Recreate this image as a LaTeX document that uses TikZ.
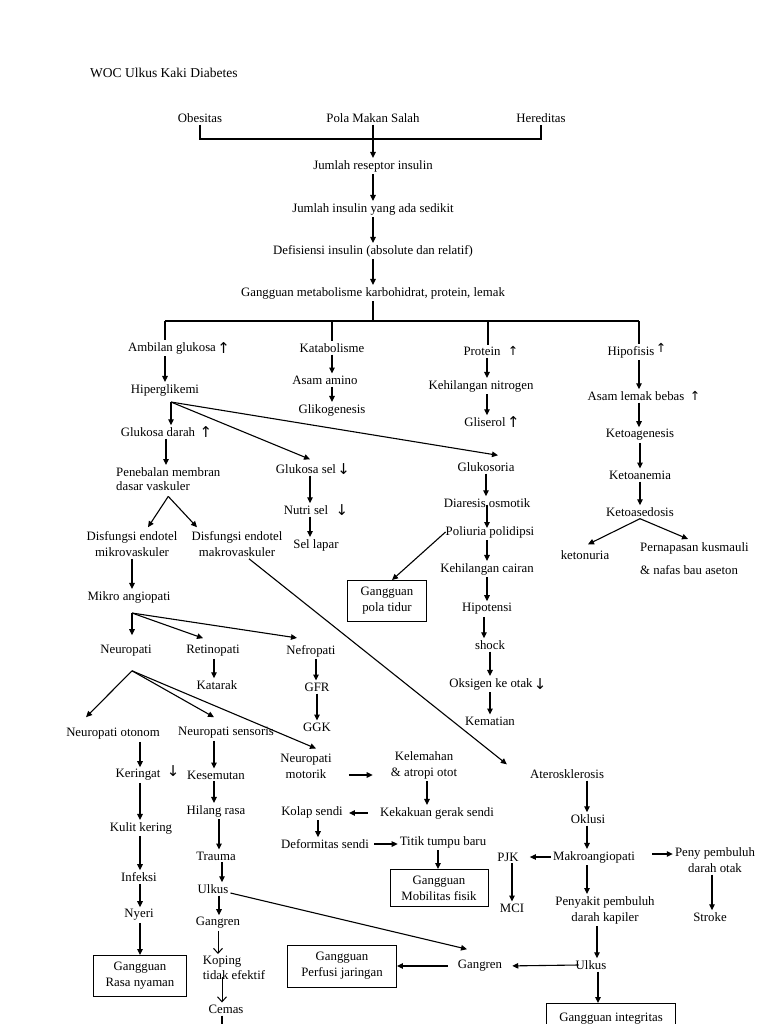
\documentclass[tikz,border=0pt]{standalone}
\usepackage{fontspec}
\setmainfont{Liberation Serif}
\newfontfamily\arrfont{DejaVu Sans}
\usetikzlibrary{arrows.meta}
\newcommand\upa{{\arrfont ↑}}
\newcommand\dna{{\arrfont ↓}}
\newcommand\dn[3][0pt]{\draw[arr] ([xshift=#1]#2.south) -- ([xshift=#1]#2.south |- #3.north);}
\begin{document}
\begin{tikzpicture}[x=1pt,y=-1pt,
 t/.style={font=\fontsize{12.8}{16}\selectfont, inner sep=2pt, align=center},
 bx/.style={t, draw, line width=0.9pt, inner sep=0pt},
 arr/.style={line width=1.1pt, -{Triangle[length=6pt,width=5.5pt]}},
 oarr/.style={line width=1pt, -{Straight Barb[length=5pt,width=9pt]}},
 ln/.style={line width=1.1pt},
 bus/.style={line width=1.7pt},
 g/.style={font=\fontsize{15}{15}\selectfont, inner sep=0pt, anchor=west},
 gs/.style={g, font=\fontsize{12.5}{12.5}\selectfont}]
\useasboundingbox[fill=white] (0,0) rectangle (768,1024);

\node[t, font=\fontsize{13.5}{16}\selectfont, anchor=west] (title) at (88,73) {WOC Ulkus Kaki Diabetes};

\node[t] (obes) at (200,118) {Obesitas};
\node[t] (pola) at (373,118) {Pola Makan Salah};
\node[t] (here) at (541,118) {Hereditas};
\node[t] (jrec) at (373,166) {Jumlah reseptor insulin};
\node[t] (jins) at (373,209) {Jumlah insulin yang ada sedikit};
\node[t] (defi) at (373,251) {Defisiensi insulin (absolute dan relatif)};
\node[t] (gmet) at (373,293) {Gangguan metabolisme karbohidrat, protein, lemak};

\coordinate (b1) at (200,139);
\draw[bus] (obes.south) -- (obes.south |- b1) -- (here.south |- b1) -- (here.south);
\draw[arr, line width=1.5pt] (pola) -- (jrec);
\draw[arr] (jrec) -- (jins);
\draw[arr] (jins) -- (defi);
\draw[arr] (defi) -- (gmet);

\coordinate (hb) at (373,321);
\coordinate (c1) at (165,321);
\coordinate (c2) at (332,321);
\coordinate (c3) at (488,321);
\coordinate (c4) at (639,321);
\draw[bus] (gmet.south) -- (hb);
\draw[bus] (c1) -- (c4);

\node[t] (amb) at (172,348) {Ambilan glukosa};
\node[g] (amb-u) at ([xshift=-1pt]amb.east) {\upa};
\node[t] (kat) at (332,348) {Katabolisme};
\node[t] (prot) at (482,351) {Protein};
\node[gs] (prot-u) at ([xshift=5pt]prot.east) {\upa};
\node[t] (hipo) at (631,352) {Hipofisis};
\node[gs] (hipo-u) at ([xshift=-1pt,yshift=4pt]hipo.east) {\upa};
\draw[bus] (c1) -- (c1 |- amb.north);
\draw[bus] (c2) -- (c2 |- kat.north);
\draw[bus] (c3) -- (c3 |- prot.north);
\draw[bus] (c4) -- (c4 |- hipo.north);

\node[t] (hip) at (165,390) {Hiperglikemi};
\draw[arr] (hip.north |- amb.south) -- (hip.north);
\node[t] (asam) at (325,380) {Asam amino};
\draw[arr] (kat.south) -- (kat.south |- asam.north);
\node[t] (glik) at (332,410) {Glikogenesis};
\draw[arr] (glik.north |- asam.south) -- (glik.north);

\node[t] (kehn) at (481,386) {Kehilangan nitrogen};
\dn[5pt]{prot}{kehn}
\node[t] (glis) at (485,422) {Gliserol};
\node[g] (glis-u) at ([xshift=-1pt]glis.east) {\upa};
\dn[6pt]{kehn}{glis}

\node[t] (ale) at (636,396) {Asam lemak bebas};
\node[gs] (ale-u) at ([xshift=3pt]ale.east) {\upa};
\dn[8pt]{hipo}{ale}
\node[t] (ktg) at (640,435) {Ketoagenesis};
\dn[3pt]{ale}{ktg}
\node[t] (ktn) at (640,475) {Ketoanemia};
\dn{ktg}{ktn}
\node[t] (kts) at (640,512) {Ketoasedosis};
\dn{ktn}{kts}
\node[t] (ktu) at (585,555) {ketonuria};
\node[t, anchor=west] (pern1) at (638,548) {Pernapasan kusmauli};
\node[t, anchor=west] (pern2) at (638,570) {\& nafas bau aseton};
\draw[arr] (kts.south) -- ([xshift=3pt,yshift=4pt]ktu.north);
\draw[arr] (kts.south) -- ([xshift=50pt,yshift=1pt]pern1.north west);

\node[t] (gdar) at (158,432) {Glukosa darah};
\node[g] (gdar-u) at ([xshift=2pt]gdar.east) {\upa};
\coordinate (hf) at ([xshift=6pt,yshift=-4pt]hip.south);
\draw[arr] (hf) -- (hf |- gdar.north);
\node[t] (gsel) at (306,469) {Glukosa sel};
\node[g] (gsel-d) at ([xshift=-1pt]gsel.east) {\dna};
\draw[arr] (hf) -- ([xshift=4pt,yshift=3pt]gsel.north);
\node[t] (glko) at (486,467) {Glukosoria};
\draw[arr] (hf) -- ([xshift=12pt,yshift=5pt]glko.north);

\node[t] (nut) at (306,510) {Nutri sel};
\node[g] (nut-d) at ([xshift=5pt]nut.east) {\dna};
\dn[4pt]{gsel}{nut}
\node[t] (sel) at (316,545) {Sel lapar};
\dn[4pt]{nut}{sel}

\node[t] (dia) at (487,503) {Diaresis osmotik};
\draw[arr] (glko.south) -- (glko.south |- dia.north);
\node[t] (pol) at (490,532) {Poliuria polidipsi};
\coordinate (dp) at ([yshift=5pt]dia.south);
\draw[arr] (dp) -- ([yshift=-4pt]dp |- pol.north);
\node[t] (kca) at (487,569) {Kehilangan cairan};
\dn[-3pt]{pol}{kca}
\node[bx, minimum width=79pt, minimum height=41pt] (bpt) at (387,601) {Gangguan\\pola tidur};
\draw[arr] ([xshift=2pt]pol.west) -- ([xshift=5pt]bpt.north);
\node[t] (hpt) at (487,609) {Hipotensi};
\dn{kca}{hpt}
\node[t] (sho) at (490,645) {shock};
\dn[-3pt]{hpt}{sho}
\node[t] (oks) at (491,684) {Oksigen ke otak};
\node[g] (oks-d) at ([xshift=-1pt]oks.east) {\dna};
\dn{sho}{oks}
\node[t] (kem) at (490,721) {Kematian};
\dn[-1pt]{oks}{kem}

\node[t, align=left, anchor=north west, font=\fontsize{12.8}{14}\selectfont] (pen) at (114,465) {Penebalan membran\\dasar vaskuler};
\draw[arr] ([xshift=8pt]gdar.south) -- ([xshift=8pt]gdar.south |- pen.north);
\coordinate (pf) at ([yshift=-4pt]pen.south);
\node[t] (dmik) at (132,544) {Disfungsi endotel\\mikrovaskuler};
\node[t] (dmak) at (237,544) {Disfungsi endotel\\makrovaskuler};
\draw[arr] (pf) -- ([xshift=16pt,yshift=2pt]dmik.north);
\draw[arr] (pf) -- ([xshift=-40pt,yshift=2pt]dmak.north);

\node[t] (mik) at (129,597) {Mikro angiopati};
\draw[arr] (dmik.south) -- (dmik.south |- mik.north);
\coordinate (mf) at ([xshift=3pt,yshift=-8pt]mik.south);
\node[t] (neu) at (126,651) {Neuropati};
\node[t] (ret) at (213,651) {Retinopati};
\node[t] (nef) at (311,651) {Nefropati};
\coordinate (mfe) at ([yshift=8pt]neu.north -| mf);
\draw[arr] (mf) -- (mfe);
\draw[arr] (mf) -- ([xshift=-10pt,yshift=5pt]ret.north);
\draw[arr] (mf) -- ([xshift=-14pt,yshift=5pt]nef.north);
\node[t] (kat2) at (217,685) {Katarak};
\dn[1pt]{ret}{kat2}
\node[t] (gfr) at (317,687) {GFR};
\dn[5pt]{nef}{gfr}
\node[t] (ggk) at (317,727) {GGK};
\draw[arr] (gfr) -- (ggk);

\coordinate (nf) at ([xshift=6pt,yshift=-12pt]neu.south);
\node[t] (not) at (113,734) {Neuropati otonom};
\node[t] (nse) at (226,733) {Neuropati sensoris};
\node[t] (nmo) at (306,766) {Neuropati\\motorik};
\draw[arr] (nf) -- ([xshift=-27pt,yshift=9pt]not.north);
\draw[arr] (nf) -- ([xshift=-12pt,yshift=8pt]nse.north);
\draw[arr] (nf) -- ([xshift=10pt,yshift=3pt]nmo.north);

\node[t] (ker) at (138,775) {Keringat};
\node[g] (ker-d) at ([xshift=4pt,yshift=4pt]ker.east) {\dna};
\dn[27pt]{not}{ker}
\node[t] (kul) at (141,828) {Kulit kering};
\dn[2pt]{ker}{kul}
\node[t] (inf) at (139,877) {Infeksi};
\dn[-1pt]{kul}{inf}
\node[t] (nye) at (139,915) {Nyeri};
\dn[1pt]{inf}{nye}
\node[bx, minimum width=93pt, minimum height=41pt] (brn) at (140,976) {Gangguan\\Rasa nyaman};
\dn[1pt]{nye}{brn}

\node[t] (kes) at (216,775) {Kesemutan};
\dn[-12pt]{nse}{kes}
\node[t] (hil) at (216,811) {Hilang rasa};
\dn[-2pt]{kes}{hil}
\node[t] (tra) at (216,856) {Trauma};
\dn[3pt]{hil}{tra}
\node[t] (ulk1) at (213,889) {Ulkus};
\dn[6pt]{tra}{ulk1}
\node[t] (gan1) at (218,923) {Gangren};
\dn[6pt]{ulk1}{gan1}
\node[t, align=left, font=\fontsize{12.8}{15}\selectfont] (kop) at (234,968) {Koping\\tidak efektif};
\draw[oarr] (gan1.south) -- (gan1.south |- kop.north);
\node[t] (cem) at (226,1009) {Cemas};
\coordinate (kp) at ([xshift=-12pt,yshift=5pt]kop.south);
\draw[oarr] (kp) -- (kp |- cem.north);
\coordinate (cemb) at (222,1026);
\draw[ln] (cemb |- cem.south) -- (cemb);

\node[t] (gan2) at (480,966) {Gangren};
\draw[arr] ([yshift=-4pt]ulk1.east) -- ([xshift=-13pt,yshift=9pt]gan2.north);
\node[bx, minimum width=109pt, minimum height=42pt] (bpj) at (342,966) {Gangguan\\Perfusi jaringan};
\draw[arr] ([xshift=-8pt]gan2.west) -- (bpj.east);

\node[t] (kel) at (424,765) {Kelemahan\\\& atropi otot};
\coordinate (m1) at ([xshift=15pt,yshift=-9pt]nmo.east);
\draw[arr, shorten >=16pt] (m1) -- (m1 -| kel.west);
\node[t] (kek) at (437,813) {Kekakuan gerak sendi};
\dn[3pt]{kel}{kek}
\node[t] (kol) at (312,812) {Kolap sendi};
\draw[arr, shorten <=10pt, shorten >=4pt] (kek.west) -- (kek.west -| kol.east);
\node[t] (def) at (325,844) {Deformitas sendi};
\dn[6pt]{kol}{def}
\node[t] (tit) at (443,842) {Titik tumpu baru};
\draw[arr, shorten <=3pt] (def.east) -- (def.east -| tit.west);
\node[bx, minimum width=98pt, minimum height=37pt] (bmf) at (439,888) {Gangguan\\Mobilitas fisik};
\dn[-5pt]{tit}{bmf}

\node[t] (ate) at (567,774) {Aterosklerosis};
\draw[arr] ([xshift=12pt]dmak.south) -- ([xshift=-21pt,yshift=3pt]ate.north west);
\node[t] (okl) at (588,819) {Oklusi};
\dn[20pt]{ate}{okl}
\node[t] (mak) at (594,857) {Makroangiopati};
\dn[-1pt]{okl}{mak}
\node[t] (pjk) at (508,857) {PJK};
\draw[arr, shorten >=9pt] (mak.west) -- (pjk.east);
\node[t] (peny) at (715,860) {Peny pembuluh\\darah otak};
\coordinate (m2) at ([xshift=15pt,yshift=3pt]mak.east);
\draw[arr] (m2) -- (m2 -| peny.west);
\node[t] (str) at (710,917) {Stroke};
\dn[-3pt]{peny}{str}
\node[t] (mci) at (512,908) {MCI};
\dn[4pt]{pjk}{mci}
\node[t] (pyk) at (605,910) {Penyakit pembuluh\\darah kapiler};
\dn[-7pt]{mak}{pyk}
\node[t] (ulk2) at (591,965) {Ulkus};
\dn[-8pt]{pyk}{ulk2}
\draw[arr, shorten >=8pt] ([xshift=5pt]ulk2.west) -- (gan2.east);
\node[bx, minimum width=129pt, minimum height=30pt, anchor=north] (bint) at (611,1003) {Gangguan integritas};
\dn[7pt]{ulk2}{bint}
\end{tikzpicture}
\end{document}
